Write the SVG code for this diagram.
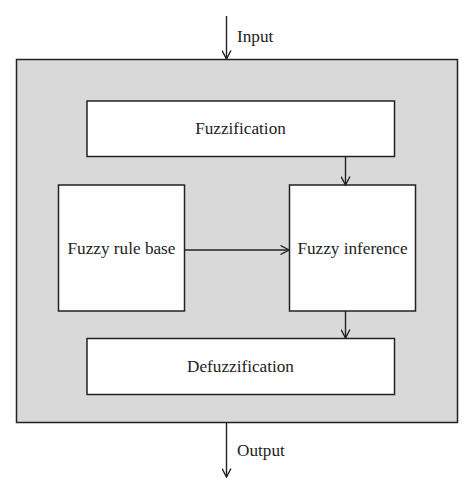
<svg xmlns="http://www.w3.org/2000/svg" width="474" height="495" viewBox="0 0 474 495">
<defs>
<marker id="arr" viewBox="0 0 10 10" refX="9.5" refY="5" markerWidth="10" markerHeight="10" markerUnits="userSpaceOnUse" orient="auto">
<path d="M1,0.5 L9.5,5 L1,9.5" fill="none" stroke="#222" stroke-width="1.4"/>
</marker>
</defs>
<style>
.box{fill:#fff;stroke:#222;stroke-width:1.5}
.outer{fill:#d9d9d9;stroke:#222;stroke-width:1.5}
.lbl{font-family:"Liberation Serif",serif;font-size:17.2px;fill:#222}
.c{stroke:#222;stroke-width:1.4;fill:none;marker-end:url(#arr)}
</style>
<rect width="474" height="495" fill="#fff"/>
<g id="system"><rect class="outer" x="16.5" y="59.5" width="441" height="363"/></g>
<g id="fuzzification"><rect class="box" x="87" y="101" width="307.5" height="55.5"/><text class="lbl" x="240.5" y="134" text-anchor="middle">Fuzzification</text></g>
<g id="rulebase"><rect class="box" x="58.5" y="185" width="126" height="126"/><text class="lbl" x="121.5" y="253.5" text-anchor="middle">Fuzzy rule base</text></g>
<g id="inference"><rect class="box" x="289.5" y="185" width="126" height="126"/><text class="lbl" x="352.5" y="253.5" text-anchor="middle">Fuzzy inference</text></g>
<g id="defuzzification"><rect class="box" x="87" y="338.5" width="307.5" height="56"/><text class="lbl" x="240.5" y="371.5" text-anchor="middle">Defuzzification</text></g>
<g id="inputlabel"><text class="lbl" x="237" y="42">Input</text></g>
<g id="outputlabel"><text class="lbl" x="237" y="456">Output</text></g>
<g id="connectors">
<line class="c" x1="226.5" y1="16" x2="226.5" y2="59"/>
<line class="c" x1="345.5" y1="156.5" x2="345.5" y2="185"/>
<line class="c" x1="184.5" y1="250" x2="289" y2="250"/>
<line class="c" x1="345.5" y1="311" x2="345.5" y2="338"/>
<line class="c" x1="226.5" y1="423" x2="226.5" y2="477"/>
</g>
</svg>
